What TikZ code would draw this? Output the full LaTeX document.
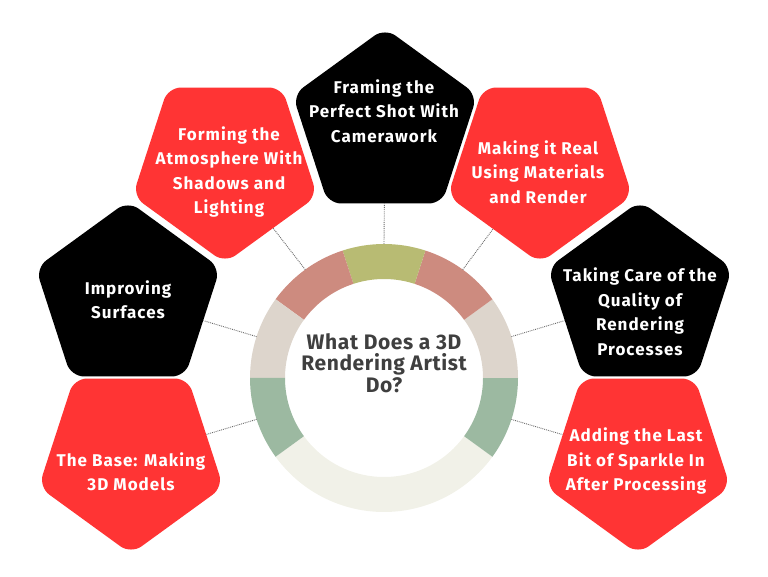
\documentclass[tikz,border=0pt]{standalone}
\usepackage{fontspec}
\setmainfont{Fira Sans}
\newfontfamily\lblfont[LetterSpace=6]{Fira Sans}
\newfontfamily\hubfont[LetterSpace=3]{Fira Sans}
\usetikzlibrary{shapes.geometric,calc,positioning}

\definecolor{pentRed}{HTML}{FF3434}
\definecolor{segOlive}{HTML}{B8BB73}
\definecolor{segPink}{HTML}{CD8B7F}
\definecolor{segBeige}{HTML}{DDD5CC}
\definecolor{segGreen}{HTML}{9CB9A1}
\definecolor{segCream}{HTML}{F1F1E8}
\definecolor{hubGray}{HTML}{3F3F3F}
\definecolor{linkGray}{HTML}{6A6A6A}

\newcommand\Rin{99pt}
\newcommand\Rout{134pt}

\tikzset{
  pentUp/.style={
    shape = regular polygon,
    regular polygon sides = 5,
    minimum size = 194pt,
    inner sep = 0pt,
    rounded corners = 13pt,
    fill
  },
  pentDown/.style={
    pentUp,
    shape border rotate = 180
  },
  lbl/.style={
    text = white,
    align = center,
    inner sep = 0pt,
    font = \lblfont\fontsize{17}{24.5}\selectfont\bfseries
  },
  hub/.style={
    text = hubGray,
    align = center,
    inner sep = 0pt,
    font = \hubfont\fontsize{21}{21.5}\selectfont\bfseries
  },
  link/.style={
    draw = linkGray,
    densely dotted,
    line width = 0.9pt
  }
}

\begin{document}
\begin{tikzpicture}[x=1pt,y=1pt]
        \useasboundingbox (0,0) rectangle (768,576);

        % pentagons
        \node[pentUp, fill=black] (improve) at (128,278) {};
        \node[pentDown, fill=pentRed] (forming) at (225,410) {};
        \node[pentUp, fill=black] (framing) at (385,451) {};
        \node[pentDown, fill=pentRed] (making) at (540,410) {};
        \node[pentUp, fill=black] (quality) at (640,278) {};
        \node[pentDown, fill=pentRed] (sparkle) at (638,119) {};
        \node[pentDown, fill=pentRed] (base) at (131,119) {};

        % ring
        \coordinate (ring) at (384,198);
        \fill[segCream] (ring) ++(216:\Rout) arc[start angle=216, end angle=324, radius=\Rout]
            -- ([shift={(324:\Rin)}]ring) arc[start angle=324, end angle=216, radius=\Rin] -- cycle;
        \fill[segGreen] (ring) ++(324:\Rout) arc[start angle=324, end angle=360, radius=\Rout]
            -- ([shift={(0:\Rin)}]ring) arc[start angle=360, end angle=324, radius=\Rin] -- cycle;
        \fill[segBeige] (ring) ++(0:\Rout) arc[start angle=0, end angle=36, radius=\Rout]
            -- ([shift={(36:\Rin)}]ring) arc[start angle=36, end angle=0, radius=\Rin] -- cycle;
        \fill[segPink] (ring) ++(36:\Rout) arc[start angle=36, end angle=72, radius=\Rout]
            -- ([shift={(72:\Rin)}]ring) arc[start angle=72, end angle=36, radius=\Rin] -- cycle;
        \fill[segOlive] (ring) ++(72:\Rout) arc[start angle=72, end angle=108, radius=\Rout]
            -- ([shift={(108:\Rin)}]ring) arc[start angle=108, end angle=72, radius=\Rin] -- cycle;
        \fill[segPink] (ring) ++(108:\Rout) arc[start angle=108, end angle=144, radius=\Rout]
            -- ([shift={(144:\Rin)}]ring) arc[start angle=144, end angle=108, radius=\Rin] -- cycle;
        \fill[segBeige] (ring) ++(144:\Rout) arc[start angle=144, end angle=180, radius=\Rout]
            -- ([shift={(180:\Rin)}]ring) arc[start angle=180, end angle=144, radius=\Rin] -- cycle;
        \fill[segGreen] (ring) ++(180:\Rout) arc[start angle=180, end angle=216, radius=\Rout]
            -- ([shift={(216:\Rin)}]ring) arc[start angle=216, end angle=180, radius=\Rin] -- cycle;

        % dotted links
        \coordinate (p1) at ([shift={(198:\Rout)}]ring);
        \coordinate (p2) at ([shift={(162:\Rout)}]ring);
        \coordinate (p3) at ([shift={(126:\Rout)}]ring);
        \coordinate (p4) at ([shift={(90:\Rout)}]ring);
        \coordinate (p5) at ([shift={(54:\Rout)}]ring);
        \coordinate (p6) at ([shift={(18:\Rout)}]ring);
        \coordinate (p7) at ([shift={(-18:\Rout)}]ring);
        \draw[link] (p1) -- (base);
        \draw[link] (p2) -- (improve);
        \draw[link] (p3) -- (forming);
        \draw[link] (p4) -- (framing);
        \draw[link] (p5) -- (making);
        \draw[link] (p6) -- (quality);
        \draw[link] (p7) -- (sparkle);

        % texts
        \node[hub] (hub-t) at (384,213) {What Does a 3D\\Rendering Artist\\Do?};
        \node[lbl] (improve-t) at (128,276) {Improving\\Surfaces};
        \node[lbl] (forming-t) at (229,404) {Forming the\\Atmosphere With\\Shadows and\\Lighting};
        \node[lbl] (framing-t) at (384,465) {Framing the\\Perfect Shot With\\Camerawork};
        \node[lbl] (making-t) at (538,404) {Making it Real\\Using Materials\\and Render};
        \node[lbl] (quality-t) at (640,264) {Taking Care of the\\Quality of\\Rendering\\Processes};
        \node[lbl] (sparkle-t) at (636,115) {Adding the Last\\Bit of Sparkle In\\After Processing};
        \node[lbl] (base-t) at (131,104) {The Base: Making\\3D Models};
\end{tikzpicture}
\end{document}
